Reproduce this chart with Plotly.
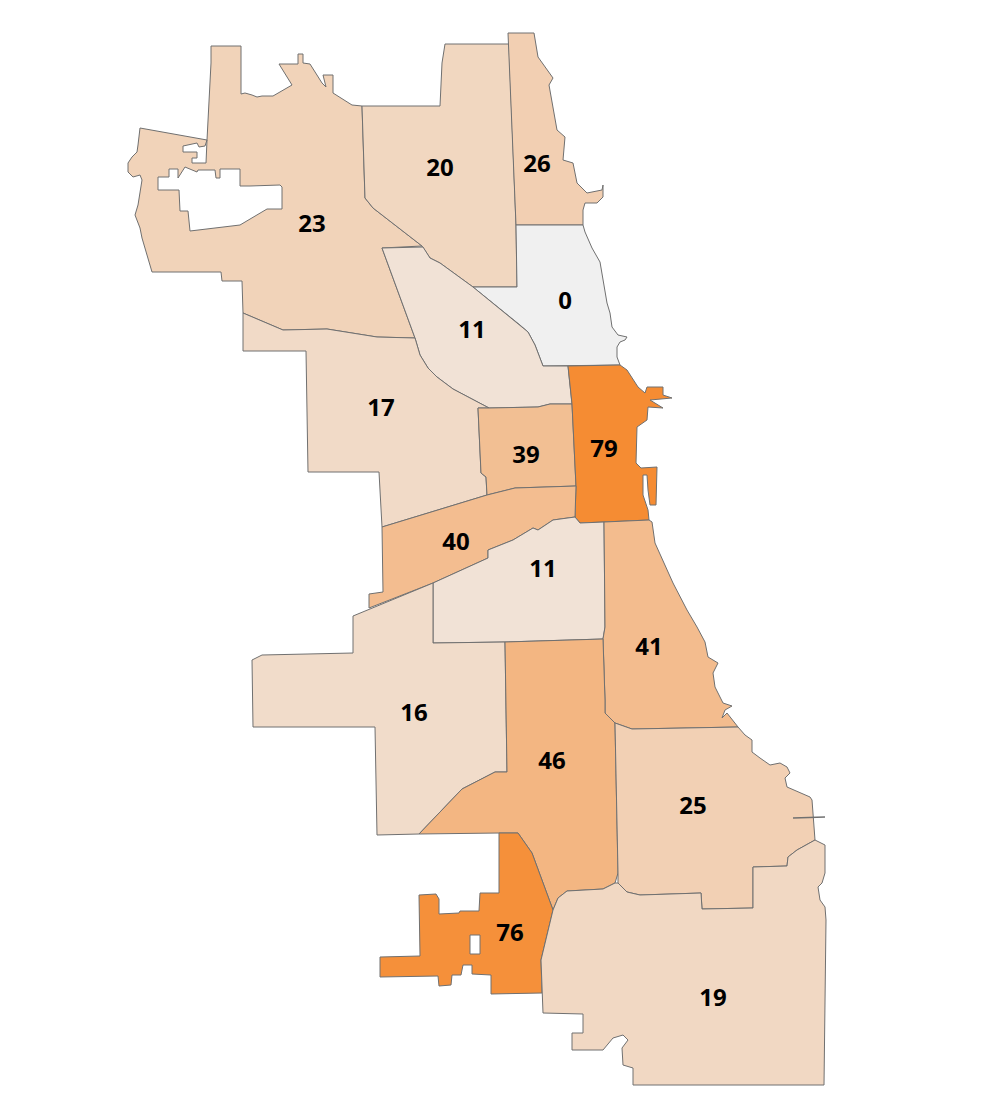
import plotly.graph_objects as go
from plotly.colors import sample_colorscale

# value shown in each district
values = [23, 20, 26, 0, 11, 17, 39, 79, 40, 11, 41, 16, 46, 25, 76, 19]

# label anchor for each district (map units, y grows downward)
label_x = [312, 440, 537, 565, 472, 381, 526, 604, 456, 543, 649, 414, 552, 693, 510, 713]
label_y = [226, 170, 166, 303, 332, 410, 457, 451, 544, 571, 649, 715, 763, 808, 935, 1000]

# district outlines
outlines = [
    [(211, 46), (241, 46), (241, 94), (245, 93), (252, 95), (257, 97), (262, 96), (273, 96), (292, 85),
     (279, 64), (298, 64), (298, 54), (303, 54), (303, 63), (310, 64), (322, 83), (326, 87), (323, 75),
     (333, 75), (333, 93), (352, 105), (362, 106), (365, 198), (373, 208), (422, 246), (382, 248),
     (415, 338), (377, 337), (327, 329), (283, 330), (243, 313), (242, 281), (222, 281), (221, 272),
     (152, 272), (142, 238), (140, 228), (135, 215), (138, 205), (140, 192), (142, 180), (140, 175),
     (133, 177), (128, 172), (128, 163), (132, 157), (137, 152), (138, 145), (140, 128), (207, 140),
     (209, 107), (211, 63), (211, 46)],
    [(445, 44), (509, 44), (516, 225), (517, 287), (473, 287), (440, 263), (430, 258), (422, 246),
     (373, 208), (365, 198), (362, 106), (440, 106), (442, 63), (445, 44)],
    [(508, 33), (534, 33), (538, 57), (553, 78), (549, 85), (553, 107), (557, 130), (565, 137),
     (563, 160), (573, 163), (577, 183), (587, 193), (602, 190), (603, 185), (603, 197), (597, 203),
     (585, 203), (583, 210), (583, 225), (516, 225), (509, 44), (508, 33)],
    [(516, 225), (583, 225), (585, 232), (592, 248), (600, 262), (603, 280), (607, 303), (610, 313),
     (612, 327), (618, 335), (627, 337), (625, 340), (620, 342), (617, 347), (617, 357), (620, 365),
     (568, 366), (543, 366), (535, 345), (528, 332), (520, 325), (473, 287), (517, 287), (516, 225)],
    [(382, 248), (423, 247), (430, 258), (440, 263), (473, 287), (520, 325), (528, 332), (535, 345),
     (543, 366), (568, 366), (572, 404), (550, 404), (538, 407), (489, 408), (453, 389), (437, 377),
     (428, 368), (420, 355), (415, 338), (382, 248)],
    [(243, 313), (283, 330), (327, 329), (377, 337), (415, 338), (420, 355), (428, 368), (437, 377),
     (453, 389), (489, 408), (478, 408), (481, 473), (486, 477), (487, 495), (382, 527), (379, 472),
     (308, 472), (306, 351), (243, 351), (243, 313)],
    [(478, 408), (489, 408), (538, 407), (550, 404), (572, 404), (576, 486), (515, 488), (487, 495),
     (486, 477), (481, 473), (478, 408)],
    [(568, 366), (620, 365), (627, 370), (638, 387), (645, 393), (647, 387), (663, 387), (663, 395),
     (672, 398), (650, 400), (663, 408), (648, 407), (647, 420), (637, 427), (636, 463), (641, 468),
     (657, 467), (656, 505), (650, 505), (648, 490), (647, 475), (643, 475), (643, 495), (648, 510),
     (649, 520), (607, 522), (580, 523), (575, 517), (576, 486), (572, 404), (568, 366)],
    [(382, 527), (487, 495), (515, 488), (576, 486), (575, 517), (553, 520), (538, 530), (533, 528),
     (513, 540), (488, 550), (488, 558), (433, 583), (369, 608), (369, 594), (383, 592), (382, 527)],
    [(575, 517), (580, 523), (604, 522), (605, 627), (603, 639), (505, 642), (433, 643), (433, 583),
     (488, 558), (488, 550), (513, 540), (533, 528), (538, 530), (553, 520), (575, 517)],
    [(604, 522), (649, 520), (652, 522), (655, 543), (673, 583), (687, 610), (697, 627), (705, 642),
     (708, 657), (718, 663), (713, 673), (715, 687), (723, 703), (732, 706), (725, 710), (722, 718),
     (727, 713), (738, 727), (632, 729), (615, 723), (605, 713), (605, 700), (603, 639), (605, 627),
     (604, 522)],
    [(353, 616), (433, 583), (433, 643), (505, 642), (507, 772), (495, 772), (462, 789), (419, 834),
     (377, 835), (375, 727), (253, 727), (252, 660), (262, 655), (353, 653), (353, 616)],
    [(505, 642), (603, 639), (605, 700), (605, 713), (615, 723), (618, 873), (615, 883), (603, 889),
     (567, 891), (558, 898), (553, 910), (532, 853), (518, 833), (499, 833), (419, 834), (462, 789),
     (495, 772), (507, 772), (505, 642)],
    [(615, 723), (632, 729), (738, 727), (745, 735), (752, 740), (752, 752), (760, 758), (770, 765),
     (780, 763), (787, 767), (790, 773), (785, 778), (787, 787), (810, 797), (812, 800), (815, 840),
     (797, 850), (788, 857), (787, 866), (753, 867), (753, 908), (702, 909), (701, 893), (640, 895),
     (627, 892), (618, 883), (618, 873), (615, 723)],
    [(499, 833), (518, 833), (532, 853), (553, 910), (541, 960), (542, 993), (491, 994), (491, 975),
     (472, 974), (472, 965), (463, 965), (461, 975), (452, 975), (451, 985), (439, 986), (438, 976),
     (380, 977), (380, 957), (420, 956), (419, 895), (436, 894), (439, 899), (439, 914), (459, 913),
     (460, 911), (479, 911), (480, 893), (499, 893), (499, 833)],
    [(553, 910), (558, 898), (567, 891), (603, 889), (615, 883), (618, 883), (627, 892), (640, 895),
     (701, 893), (702, 909), (753, 908), (753, 867), (787, 866), (788, 857), (797, 850), (815, 840),
     (825, 845), (825, 873), (822, 883), (818, 887), (820, 900), (825, 907), (826, 920), (824, 1085),
     (633, 1085), (633, 1068), (623, 1065), (622, 1048), (628, 1040), (623, 1035), (613, 1038),
     (603, 1050), (572, 1050), (572, 1033), (583, 1033), (583, 1014), (543, 1013), (541, 960),
     (553, 910)],
]

# areas inside districts that are not part of any district
holes = [
    [(183, 146), (197, 143), (199, 147), (205, 146), (207, 140), (206, 163), (192, 163), (192, 158),
     (197, 158), (197, 152), (183, 152), (183, 146)],
    [(158, 177), (169, 177), (169, 169), (178, 169), (178, 178), (185, 167), (197, 172), (198, 170),
     (215, 170), (216, 178), (220, 178), (220, 169), (240, 169), (240, 186), (250, 186), (280, 185),
     (282, 187), (282, 209), (267, 209), (240, 225), (190, 231), (188, 211), (180, 211), (179, 190),
     (158, 190), (158, 177)],
    [(470, 935), (480, 935), (480, 954), (470, 954), (470, 935)],
]

pier = [(793, 818), (825, 817)]

EDGE = 'rgb(112,112,112)'
scale = [[0, '#f0f0f0'], [1, '#f58c33']]
vmax = max(values)
fills = sample_colorscale(scale, [v / vmax for v in values])

fig = go.Figure()

for pts, val, col in zip(outlines, values, fills):
    fig.add_trace(go.Scatter(
        x=[p[0] for p in pts], y=[p[1] for p in pts],
        mode='lines', fill='toself', fillcolor=col,
        line=dict(color=EDGE, width=1),
        hoveron='fills', text=str(val), hoverinfo='text',
        showlegend=False
    ))

for pts in holes:
    fig.add_trace(go.Scatter(
        x=[p[0] for p in pts], y=[p[1] for p in pts],
        mode='lines', fill='toself', fillcolor='white',
        line=dict(color=EDGE, width=1),
        hoverinfo='skip', showlegend=False
    ))

fig.add_trace(go.Scatter(
    x=[p[0] for p in pier], y=[p[1] for p in pier],
    mode='lines', line=dict(color=EDGE, width=1.5),
    hoverinfo='skip', showlegend=False
))

fig.add_trace(go.Scatter(
    x=label_x, y=label_y, mode='text',
    text=['<b>%d</b>' % v for v in values],
    textfont=dict(family='Noto Sans', size=24, color='black'),
    hoverinfo='skip', showlegend=False
))

# page body adds an 8px offset, so the plot starts 8px in
fig.update_layout(
    width=998, height=1105,
    margin=dict(l=0, r=0, t=0, b=0),
    paper_bgcolor='white', plot_bgcolor='white',
    xaxis=dict(range=[8, 1006], visible=False, fixedrange=True),
    yaxis=dict(range=[1113, 8], visible=False, fixedrange=True),
)

fig.write_html('out.html')
